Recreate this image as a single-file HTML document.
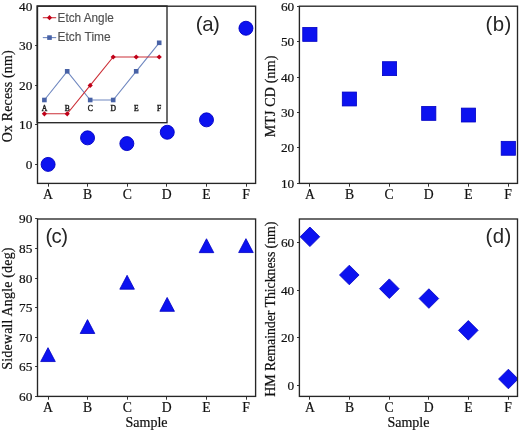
<!DOCTYPE html>
<html><head><meta charset="utf-8"><style>
html,body{margin:0;padding:0;background:#fff;}
.s{font-family:'Liberation Serif','Times New Roman',serif;fill:#111;stroke:#111;stroke-width:0.2px;}
svg{display:block;}
</style></head><body>
<svg width="520" height="431" viewBox="0 0 520 431">
<defs><clipPath id="ca"><rect x="37.5" y="6.2" width="218.1" height="177.20000000000002"/></clipPath><clipPath id="cb"><rect x="299.4" y="6.2" width="218.10000000000002" height="177.20000000000002"/></clipPath><clipPath id="cc"><rect x="37.5" y="219.0" width="218.1" height="177.39999999999998"/></clipPath><clipPath id="cd"><rect x="299.4" y="219.0" width="218.10000000000002" height="177.39999999999998"/></clipPath></defs>
<rect width="520" height="431" fill="#fff"/>
<line x1="48.50" y1="183.4" x2="48.50" y2="186.70000000000002" stroke="#333" stroke-width="1"/>
<text x="48.00" y="198.50" text-anchor="middle" class="s" font-size="13.7">A</text>
<line x1="87.50" y1="183.4" x2="87.50" y2="186.70000000000002" stroke="#333" stroke-width="1"/>
<text x="87.60" y="198.50" text-anchor="middle" class="s" font-size="13.7">B</text>
<line x1="127.50" y1="183.4" x2="127.50" y2="186.70000000000002" stroke="#333" stroke-width="1"/>
<text x="127.20" y="198.50" text-anchor="middle" class="s" font-size="13.7">C</text>
<line x1="166.50" y1="183.4" x2="166.50" y2="186.70000000000002" stroke="#333" stroke-width="1"/>
<text x="166.80" y="198.50" text-anchor="middle" class="s" font-size="13.7">D</text>
<line x1="206.50" y1="183.4" x2="206.50" y2="186.70000000000002" stroke="#333" stroke-width="1"/>
<text x="206.40" y="198.50" text-anchor="middle" class="s" font-size="13.7">E</text>
<line x1="246.50" y1="183.4" x2="246.50" y2="186.70000000000002" stroke="#333" stroke-width="1"/>
<text x="246.00" y="198.50" text-anchor="middle" class="s" font-size="13.7">F</text>
<line x1="35.1" y1="164.5" x2="37.5" y2="164.5" stroke="#333" stroke-width="1"/>
<text x="32.30" y="168.80" text-anchor="end" class="s" font-size="13.3">0</text>
<line x1="35.1" y1="124.5" x2="37.5" y2="124.5" stroke="#333" stroke-width="1"/>
<text x="32.30" y="129.30" text-anchor="end" class="s" font-size="13.3">10</text>
<line x1="35.1" y1="85.5" x2="37.5" y2="85.5" stroke="#333" stroke-width="1"/>
<text x="32.30" y="89.80" text-anchor="end" class="s" font-size="13.3">20</text>
<line x1="35.1" y1="45.5" x2="37.5" y2="45.5" stroke="#333" stroke-width="1"/>
<text x="32.30" y="50.30" text-anchor="end" class="s" font-size="13.3">30</text>
<text x="32.30" y="10.80" text-anchor="end" class="s" font-size="13.3">40</text>
<text transform="translate(11.5,96.25) rotate(-90)" text-anchor="middle" textLength="91.9" lengthAdjust="spacing" class="s" font-size="14">Ox Recess (nm)</text>
<line x1="309.50" y1="183.4" x2="309.50" y2="186.70000000000002" stroke="#333" stroke-width="1"/>
<text x="309.95" y="198.50" text-anchor="middle" class="s" font-size="13.7">A</text>
<line x1="349.50" y1="183.4" x2="349.50" y2="186.70000000000002" stroke="#333" stroke-width="1"/>
<text x="349.57" y="198.50" text-anchor="middle" class="s" font-size="13.7">B</text>
<line x1="389.50" y1="183.4" x2="389.50" y2="186.70000000000002" stroke="#333" stroke-width="1"/>
<text x="389.19" y="198.50" text-anchor="middle" class="s" font-size="13.7">C</text>
<line x1="428.50" y1="183.4" x2="428.50" y2="186.70000000000002" stroke="#333" stroke-width="1"/>
<text x="428.81" y="198.50" text-anchor="middle" class="s" font-size="13.7">D</text>
<line x1="468.50" y1="183.4" x2="468.50" y2="186.70000000000002" stroke="#333" stroke-width="1"/>
<text x="468.43" y="198.50" text-anchor="middle" class="s" font-size="13.7">E</text>
<line x1="508.50" y1="183.4" x2="508.50" y2="186.70000000000002" stroke="#333" stroke-width="1"/>
<text x="508.05" y="198.50" text-anchor="middle" class="s" font-size="13.7">F</text>
<line x1="297.0" y1="183.5" x2="299.4" y2="183.5" stroke="#333" stroke-width="1"/>
<text x="294.20" y="187.80" text-anchor="end" class="s" font-size="13.3">10</text>
<line x1="297.0" y1="147.5" x2="299.4" y2="147.5" stroke="#333" stroke-width="1"/>
<text x="294.20" y="152.36" text-anchor="end" class="s" font-size="13.3">20</text>
<line x1="297.0" y1="112.5" x2="299.4" y2="112.5" stroke="#333" stroke-width="1"/>
<text x="294.20" y="116.90" text-anchor="end" class="s" font-size="13.3">30</text>
<line x1="297.0" y1="77.5" x2="299.4" y2="77.5" stroke="#333" stroke-width="1"/>
<text x="294.20" y="81.50" text-anchor="end" class="s" font-size="13.3">40</text>
<line x1="297.0" y1="41.5" x2="299.4" y2="41.5" stroke="#333" stroke-width="1"/>
<text x="294.20" y="46.00" text-anchor="end" class="s" font-size="13.3">50</text>
<line x1="297.0" y1="6.5" x2="299.4" y2="6.5" stroke="#333" stroke-width="1"/>
<text x="294.20" y="10.60" text-anchor="end" class="s" font-size="13.3">60</text>
<text transform="translate(274.6,96.45) rotate(-90)" text-anchor="middle" textLength="81.86" lengthAdjust="spacing" class="s" font-size="14">MTJ CD (nm)</text>
<line x1="48.50" y1="396.4" x2="48.50" y2="399.7" stroke="#333" stroke-width="1"/>
<text x="48.00" y="411.50" text-anchor="middle" class="s" font-size="13.7">A</text>
<line x1="87.50" y1="396.4" x2="87.50" y2="399.7" stroke="#333" stroke-width="1"/>
<text x="87.60" y="411.50" text-anchor="middle" class="s" font-size="13.7">B</text>
<line x1="127.50" y1="396.4" x2="127.50" y2="399.7" stroke="#333" stroke-width="1"/>
<text x="127.20" y="411.50" text-anchor="middle" class="s" font-size="13.7">C</text>
<line x1="166.50" y1="396.4" x2="166.50" y2="399.7" stroke="#333" stroke-width="1"/>
<text x="166.80" y="411.50" text-anchor="middle" class="s" font-size="13.7">D</text>
<line x1="206.50" y1="396.4" x2="206.50" y2="399.7" stroke="#333" stroke-width="1"/>
<text x="206.40" y="411.50" text-anchor="middle" class="s" font-size="13.7">E</text>
<line x1="246.50" y1="396.4" x2="246.50" y2="399.7" stroke="#333" stroke-width="1"/>
<text x="246.00" y="411.50" text-anchor="middle" class="s" font-size="13.7">F</text>
<line x1="35.1" y1="396.5" x2="37.5" y2="396.5" stroke="#333" stroke-width="1"/>
<text x="32.30" y="400.80" text-anchor="end" class="s" font-size="13.3">60</text>
<line x1="35.1" y1="366.5" x2="37.5" y2="366.5" stroke="#333" stroke-width="1"/>
<text x="32.30" y="371.20" text-anchor="end" class="s" font-size="13.3">65</text>
<line x1="35.1" y1="337.5" x2="37.5" y2="337.5" stroke="#333" stroke-width="1"/>
<text x="32.30" y="341.70" text-anchor="end" class="s" font-size="13.3">70</text>
<line x1="35.1" y1="307.5" x2="37.5" y2="307.5" stroke="#333" stroke-width="1"/>
<text x="32.30" y="312.10" text-anchor="end" class="s" font-size="13.3">75</text>
<line x1="35.1" y1="278.5" x2="37.5" y2="278.5" stroke="#333" stroke-width="1"/>
<text x="32.30" y="282.60" text-anchor="end" class="s" font-size="13.3">80</text>
<line x1="35.1" y1="248.5" x2="37.5" y2="248.5" stroke="#333" stroke-width="1"/>
<text x="32.30" y="253.00" text-anchor="end" class="s" font-size="13.3">85</text>
<line x1="35.1" y1="218.5" x2="37.5" y2="218.5" stroke="#333" stroke-width="1"/>
<text x="32.30" y="223.40" text-anchor="end" class="s" font-size="13.3">90</text>
<text transform="translate(11.9,308.6) rotate(-90)" text-anchor="middle" textLength="122.2" lengthAdjust="spacing" class="s" font-size="14">Sidewall Angle (deg)</text>
<line x1="309.50" y1="396.4" x2="309.50" y2="399.7" stroke="#333" stroke-width="1"/>
<text x="309.95" y="411.50" text-anchor="middle" class="s" font-size="13.7">A</text>
<line x1="349.50" y1="396.4" x2="349.50" y2="399.7" stroke="#333" stroke-width="1"/>
<text x="349.57" y="411.50" text-anchor="middle" class="s" font-size="13.7">B</text>
<line x1="389.50" y1="396.4" x2="389.50" y2="399.7" stroke="#333" stroke-width="1"/>
<text x="389.19" y="411.50" text-anchor="middle" class="s" font-size="13.7">C</text>
<line x1="428.50" y1="396.4" x2="428.50" y2="399.7" stroke="#333" stroke-width="1"/>
<text x="428.81" y="411.50" text-anchor="middle" class="s" font-size="13.7">D</text>
<line x1="468.50" y1="396.4" x2="468.50" y2="399.7" stroke="#333" stroke-width="1"/>
<text x="468.43" y="411.50" text-anchor="middle" class="s" font-size="13.7">E</text>
<line x1="508.50" y1="396.4" x2="508.50" y2="399.7" stroke="#333" stroke-width="1"/>
<text x="508.05" y="411.50" text-anchor="middle" class="s" font-size="13.7">F</text>
<line x1="297.0" y1="385.5" x2="299.4" y2="385.5" stroke="#333" stroke-width="1"/>
<text x="294.20" y="389.50" text-anchor="end" class="s" font-size="13.3">0</text>
<line x1="297.0" y1="337.5" x2="299.4" y2="337.5" stroke="#333" stroke-width="1"/>
<text x="294.20" y="342.00" text-anchor="end" class="s" font-size="13.3">20</text>
<line x1="297.0" y1="290.5" x2="299.4" y2="290.5" stroke="#333" stroke-width="1"/>
<text x="294.20" y="294.60" text-anchor="end" class="s" font-size="13.3">40</text>
<line x1="297.0" y1="242.5" x2="299.4" y2="242.5" stroke="#333" stroke-width="1"/>
<text x="294.20" y="247.10" text-anchor="end" class="s" font-size="13.3">60</text>
<text transform="translate(274.6,309.15) rotate(-90)" text-anchor="middle" textLength="175.3" lengthAdjust="spacing" class="s" font-size="14">HM Remainder Thickness (nm)</text>
<text x="146.55" y="426.5" text-anchor="middle" class="s" font-size="14">Sample</text>
<text x="408.45" y="426.5" text-anchor="middle" class="s" font-size="14">Sample</text>
<g clip-path="url(#ca)"><circle cx="48.1" cy="164.4" r="7.0" fill="#0c12f0" stroke="#0000c4" stroke-width="0.9"/><circle cx="87.55" cy="137.85" r="7.0" fill="#0c12f0" stroke="#0000c4" stroke-width="0.9"/><circle cx="126.85" cy="143.6" r="7.0" fill="#0c12f0" stroke="#0000c4" stroke-width="0.9"/><circle cx="167.25" cy="132.25" r="7.0" fill="#0c12f0" stroke="#0000c4" stroke-width="0.9"/><circle cx="206.5" cy="119.85" r="7.0" fill="#0c12f0" stroke="#0000c4" stroke-width="0.9"/><circle cx="245.95" cy="28.25" r="7.0" fill="#0c12f0" stroke="#0000c4" stroke-width="0.9"/></g>
<g clip-path="url(#cb)"><rect x="302.75" y="27.45" width="14.20" height="13.90" fill="#0c12f0" stroke="#0000c4" stroke-width="0.8"/><rect x="342.30" y="92.05" width="14.20" height="13.90" fill="#0c12f0" stroke="#0000c4" stroke-width="0.8"/><rect x="382.40" y="61.70" width="14.20" height="13.90" fill="#0c12f0" stroke="#0000c4" stroke-width="0.8"/><rect x="421.65" y="106.45" width="14.20" height="13.90" fill="#0c12f0" stroke="#0000c4" stroke-width="0.8"/><rect x="461.35" y="108.10" width="14.20" height="13.90" fill="#0c12f0" stroke="#0000c4" stroke-width="0.8"/><rect x="501.20" y="141.35" width="14.20" height="13.90" fill="#0c12f0" stroke="#0000c4" stroke-width="0.8"/></g>
<g clip-path="url(#cc)"><polygon points="48.00,347.65 40.70,361.55 55.30,361.55" fill="#0c12f0" stroke="#0000c4" stroke-width="0.8" stroke-linejoin="miter"/><polygon points="87.50,319.60 80.20,333.50 94.80,333.50" fill="#0c12f0" stroke="#0000c4" stroke-width="0.8" stroke-linejoin="miter"/><polygon points="127.10,275.30 119.80,289.20 134.40,289.20" fill="#0c12f0" stroke="#0000c4" stroke-width="0.8" stroke-linejoin="miter"/><polygon points="167.15,297.45 159.85,311.35 174.45,311.35" fill="#0c12f0" stroke="#0000c4" stroke-width="0.8" stroke-linejoin="miter"/><polygon points="206.50,238.75 199.20,252.65 213.80,252.65" fill="#0c12f0" stroke="#0000c4" stroke-width="0.8" stroke-linejoin="miter"/><polygon points="245.95,238.65 238.65,252.55 253.25,252.55" fill="#0c12f0" stroke="#0000c4" stroke-width="0.8" stroke-linejoin="miter"/></g>
<g clip-path="url(#cd)"><polygon points="309.90,227.00 319.70,236.80 309.90,246.60 300.10,236.80" fill="#0c12f0" stroke="#0000c4" stroke-width="0.8"/><polygon points="349.30,265.20 359.10,275.00 349.30,284.80 339.50,275.00" fill="#0c12f0" stroke="#0000c4" stroke-width="0.8"/><polygon points="389.30,278.90 399.10,288.70 389.30,298.50 379.50,288.70" fill="#0c12f0" stroke="#0000c4" stroke-width="0.8"/><polygon points="428.90,288.75 438.70,298.55 428.90,308.35 419.10,298.55" fill="#0c12f0" stroke="#0000c4" stroke-width="0.8"/><polygon points="468.30,320.55 478.10,330.35 468.30,340.15 458.50,330.35" fill="#0c12f0" stroke="#0000c4" stroke-width="0.8"/><polygon points="508.40,369.20 518.20,379.00 508.40,388.80 498.60,379.00" fill="#0c12f0" stroke="#0000c4" stroke-width="0.8"/></g>
<rect x="37.1" y="6.0" width="129.9" height="116.7" fill="#fff" stroke="none"/>
<text x="44.40" y="110.6" text-anchor="middle" font-family="'Liberation Serif', 'Times New Roman', serif" font-size="7.6" fill="#1a1a1a" stroke="#1a1a1a" stroke-width="0.4">A</text>
<text x="67.20" y="110.6" text-anchor="middle" font-family="'Liberation Serif', 'Times New Roman', serif" font-size="7.6" fill="#1a1a1a" stroke="#1a1a1a" stroke-width="0.4">B</text>
<text x="90.20" y="110.6" text-anchor="middle" font-family="'Liberation Serif', 'Times New Roman', serif" font-size="7.6" fill="#1a1a1a" stroke="#1a1a1a" stroke-width="0.4">C</text>
<text x="113.20" y="110.6" text-anchor="middle" font-family="'Liberation Serif', 'Times New Roman', serif" font-size="7.6" fill="#1a1a1a" stroke="#1a1a1a" stroke-width="0.4">D</text>
<text x="136.20" y="110.6" text-anchor="middle" font-family="'Liberation Serif', 'Times New Roman', serif" font-size="7.6" fill="#1a1a1a" stroke="#1a1a1a" stroke-width="0.4">E</text>
<text x="159.20" y="110.6" text-anchor="middle" font-family="'Liberation Serif', 'Times New Roman', serif" font-size="7.6" fill="#1a1a1a" stroke="#1a1a1a" stroke-width="0.4">F</text>
<polyline points="44.4,100.0 67.2,71.3 90.2,100.0 113.2,100.0 136.2,71.3 159.2,42.8" fill="none" stroke="#7088c0" stroke-width="1.1"/>
<polyline points="44.4,113.8 67.2,113.8 90.2,85.4 113.2,57.0 136.2,57.0 159.2,57.0" fill="none" stroke="#cc3038" stroke-width="1.1"/>
<rect x="42.10" y="97.70" width="4.6" height="4.6" fill="#4862a6"/>
<rect x="64.90" y="69.00" width="4.6" height="4.6" fill="#4862a6"/>
<rect x="87.90" y="97.70" width="4.6" height="4.6" fill="#4862a6"/>
<rect x="110.90" y="97.70" width="4.6" height="4.6" fill="#4862a6"/>
<rect x="133.90" y="69.00" width="4.6" height="4.6" fill="#4862a6"/>
<rect x="156.90" y="40.50" width="4.6" height="4.6" fill="#4862a6"/>
<polygon points="44.4,111.2 47.0,113.8 44.4,116.39999999999999 41.8,113.8" fill="#c00018"/>
<polygon points="67.2,111.2 69.8,113.8 67.2,116.39999999999999 64.60000000000001,113.8" fill="#c00018"/>
<polygon points="90.2,82.80000000000001 92.8,85.4 90.2,88.0 87.60000000000001,85.4" fill="#c00018"/>
<polygon points="113.2,54.4 115.8,57.0 113.2,59.6 110.60000000000001,57.0" fill="#c00018"/>
<polygon points="136.2,54.4 138.79999999999998,57.0 136.2,59.6 133.6,57.0" fill="#c00018"/>
<polygon points="159.2,54.4 161.79999999999998,57.0 159.2,59.6 156.6,57.0" fill="#c00018"/>
<line x1="42.8" y1="17.7" x2="56.2" y2="17.7" stroke="#cc3038" stroke-width="1.1"/>
<polygon points="49.5,15.1 52.1,17.7 49.5,20.3 46.9,17.7" fill="#c00018"/>
<line x1="42.8" y1="37.6" x2="56.2" y2="37.6" stroke="#7088c0" stroke-width="1.1"/>
<rect x="47.2" y="35.3" width="4.6" height="4.6" fill="#4862a6"/>
<text x="57.6" y="21.5" font-family="'Liberation Sans', Arial, sans-serif" font-size="12.2" fill="#505050" stroke="#505050" stroke-width="0.15" textLength="56.2" lengthAdjust="spacingAndGlyphs">Etch Angle</text>
<text x="57.6" y="41.3" font-family="'Liberation Sans', Arial, sans-serif" font-size="12.2" fill="#505050" stroke="#505050" stroke-width="0.15" textLength="53.0" lengthAdjust="spacingAndGlyphs">Etch Time</text>
<rect x="37.1" y="6.0" width="129.9" height="116.7" fill="none" stroke="#262626" stroke-width="1.35"/>
<rect x="37.5" y="6.2" width="218.10" height="177.20" fill="none" stroke="#262626" stroke-width="1.35"/>
<rect x="299.4" y="6.2" width="218.10" height="177.20" fill="none" stroke="#262626" stroke-width="1.35"/>
<rect x="37.5" y="219.0" width="218.10" height="177.40" fill="none" stroke="#262626" stroke-width="1.35"/>
<rect x="299.4" y="219.0" width="218.10" height="177.40" fill="none" stroke="#262626" stroke-width="1.35"/>
<text x="195.8" y="31.1" font-family="'Liberation Sans', Arial, sans-serif" font-size="20.4" fill="#262626" textLength="24.0" lengthAdjust="spacing">(a)</text>
<text x="485.6" y="31.2" font-family="'Liberation Sans', Arial, sans-serif" font-size="20.4" fill="#262626" textLength="25.7" lengthAdjust="spacing">(b)</text>
<text x="45.4" y="243.2" font-family="'Liberation Sans', Arial, sans-serif" font-size="20.4" fill="#262626" textLength="22.65" lengthAdjust="spacing">(c)</text>
<text x="485.6" y="243.2" font-family="'Liberation Sans', Arial, sans-serif" font-size="20.4" fill="#262626" textLength="25.7" lengthAdjust="spacing">(d)</text>
</svg>
</body></html>
